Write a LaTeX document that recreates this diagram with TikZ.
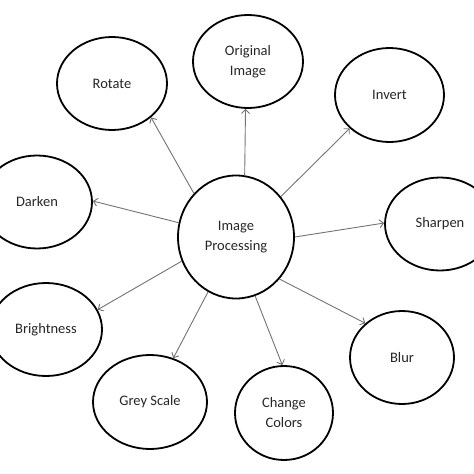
\documentclass[tikz,border=0pt]{standalone}
\usepackage{fontspec}
\setmainfont{Carlito}
\usetikzlibrary{shapes.geometric,arrows.meta}
\begin{document}
\begin{tikzpicture}[x=1pt,y=-1pt,
  topic/.style={ellipse,draw=black,line width=1.8pt,inner sep=0pt,align=center,
    font=\fontsize{14.5}{20}\selectfont,text=black!85},
  link/.style={draw=black!55,line width=0.9pt,-{Straight Barb[length=4pt,width=8pt]}}]
\useasboundingbox (0,0) rectangle (474,474);
\clip (0,0) rectangle (474,474);
% hub
\node[topic,minimum width=116pt,minimum height=123pt] (hub) at (236,237) {Image\\Processing};
% operations around the hub
\node[topic,minimum width=110pt,minimum height=93pt] (rot)  at (112,83.5) {Rotate};
\node[topic,minimum width=110pt,minimum height=93pt] (orig) at (248,61.5) {Original\\Image};
\node[topic,minimum width=109pt,minimum height=94pt] (inv)  at (389.5,95) {Invert};
\node[topic,minimum width=110pt,minimum height=93pt] (dark) at (37,202) {Darken};
\node[topic,minimum width=110pt,minimum height=93pt] (sharp) at (440,224) {Sharpen};
\node[topic,minimum width=112pt,minimum height=93pt] (bright) at (46,329.5) {Brightness};
\node[topic,minimum width=114pt,minimum height=94pt] (grey) at (150,402) {Grey Scale};
\node[topic,minimum width=98pt,minimum height=94pt] (col)  at (284,413) {Change\\Colors};
\node[topic,minimum width=104pt,minimum height=93pt] (blur) at (402,357.5) {Blur};
% connectors
\draw[link] (hub.134.3) -- (rot.-41.5);
\draw[link] (hub.82.6)  -- (orig.-93.5);
\draw[link] (hub.42.3)  -- (inv.-140.1);
\draw[link] (hub.166.7) -- (dark.1);
\draw[link] (hub.0.9)   -- (sharp.179);
\draw[link] (hub.204.1) -- (bright.21.5);
\draw[link] (hub.243)   -- (grey.62.9);
\draw[link] (hub.-72.4) -- (col.92.4);
\draw[link] (hub.-44.3) -- (blur.137.8);
\end{tikzpicture}
\end{document}
